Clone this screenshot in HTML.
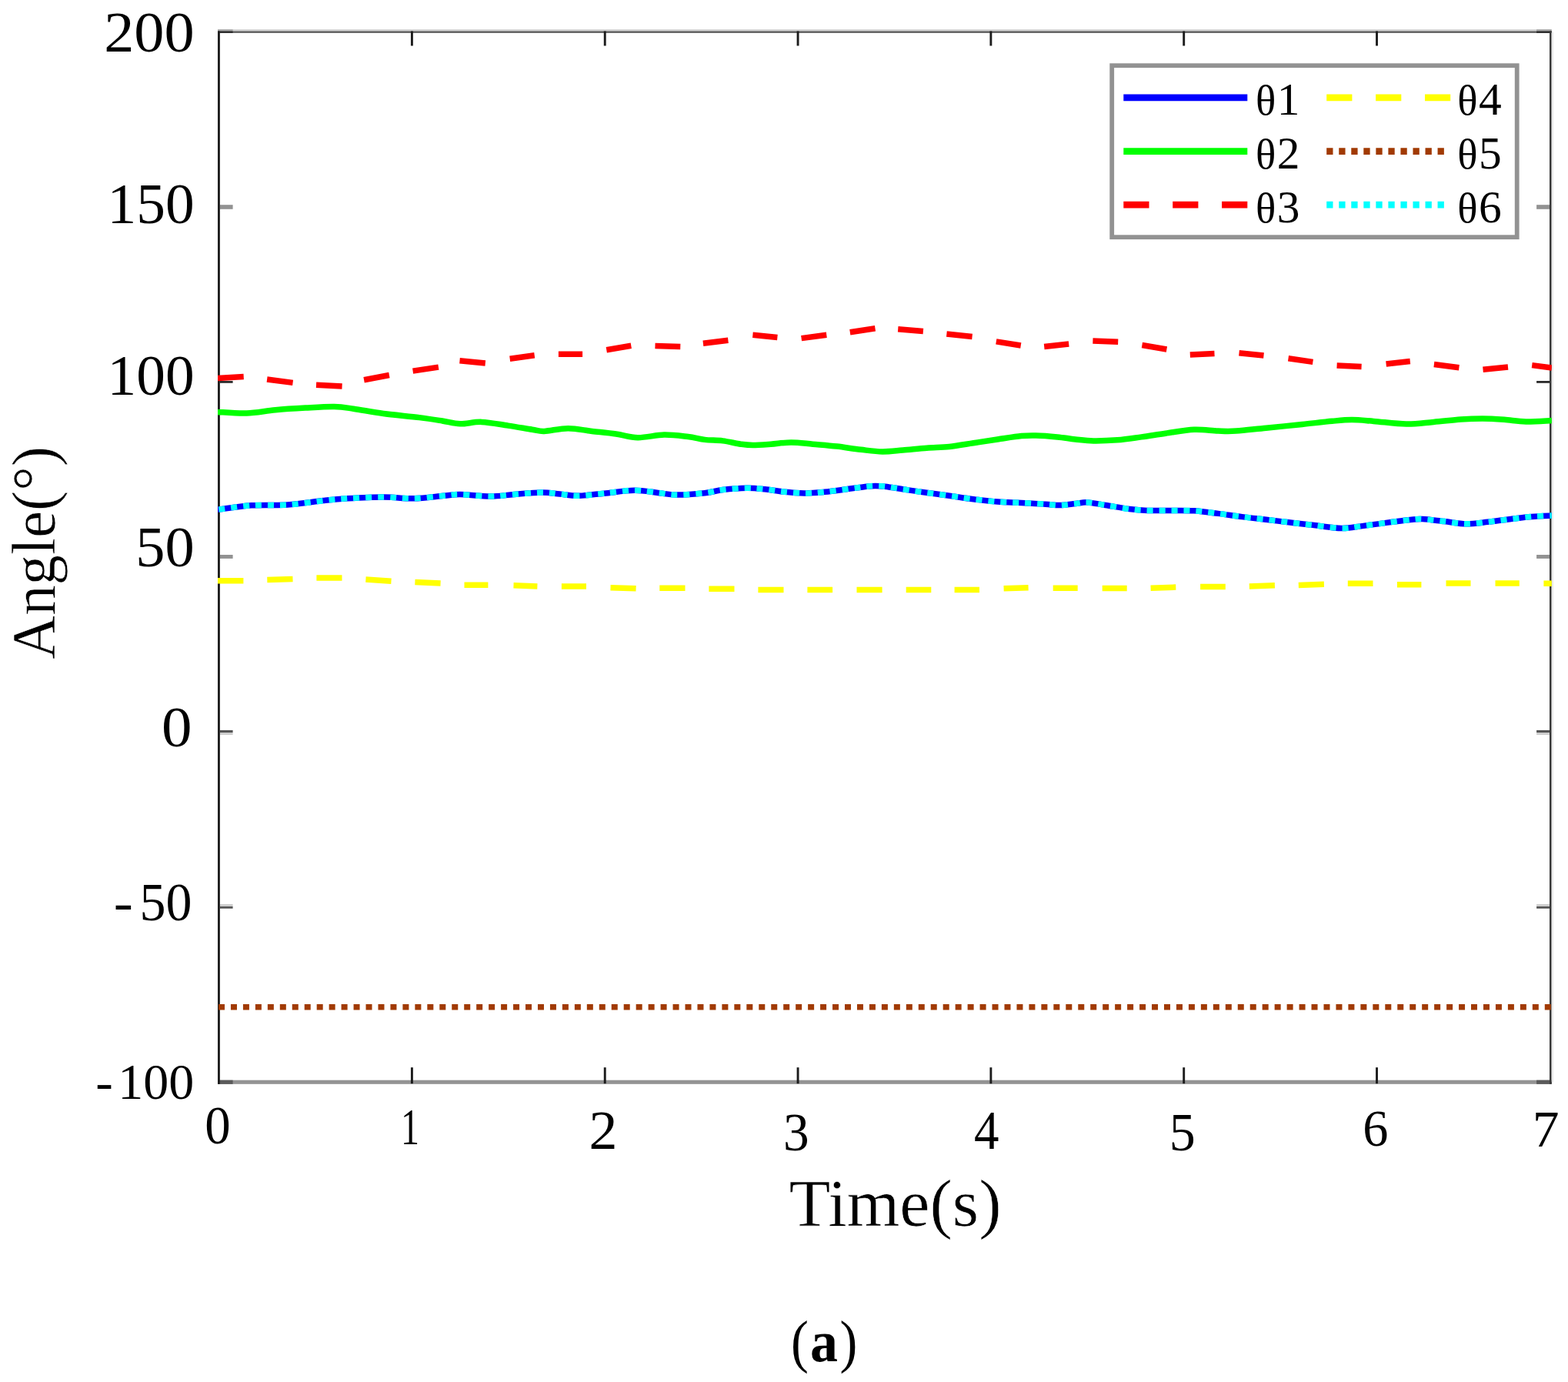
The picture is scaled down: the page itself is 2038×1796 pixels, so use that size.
<!DOCTYPE html>
<html lang="en"><head><meta charset="utf-8"><title>Joint angles (a)</title>
<style>
html,body{margin:0;padding:0;background:#fff;}
body{width:2038px;height:1796px;overflow:hidden;}
svg{display:block;}
svg text{font-family:"Liberation Serif","DejaVu Serif",serif;fill:#000;}
svg .thin text{stroke:#fff;stroke-width:0.6px;vector-effect:non-scaling-stroke;stroke-linejoin:round;}
</style></head><body>
<svg width="2038" height="1796" viewBox="0 0 2038 1796">
<rect width="2038" height="1796" fill="#fff"/>
<defs><clipPath id="plot"><rect x="283" y="38" width="1733.8" height="1371"/></clipPath></defs>
<g id="axes">
<rect x="283.0" y="38.2" width="1733.7" height="2.4" fill="#cfcfcf"/>
<rect x="283.0" y="40.5" width="1733.7" height="2.3" fill="#555"/>
<rect x="283.0" y="1403.7" width="1733.7" height="5.1" fill="#939393"/>
<rect x="283.0" y="38.2" width="19.6" height="2.4" fill="#a6a6a6"/>
<rect x="283.0" y="40.5" width="19.6" height="2.3" fill="#262626"/>
<rect x="283.0" y="1403.7" width="19.6" height="5.1" fill="#5a5a5a"/>
<rect x="1997.1000000000001" y="38.2" width="19.6" height="2.4" fill="#a6a6a6"/>
<rect x="1997.1000000000001" y="40.5" width="19.6" height="2.3" fill="#262626"/>
<rect x="1997.1000000000001" y="1403.7" width="19.6" height="5.1" fill="#5a5a5a"/>
</g>
<g id="yticks">
<rect x="285.9" y="266.2" width="16.7" height="5.6" fill="#929292"/>
<rect x="1997.1000000000001" y="266.2" width="16.9" height="5.6" fill="#929292"/>
<rect x="285.9" y="495.0" width="16.7" height="2.8" fill="#2a2a2a"/>
<rect x="1997.1000000000001" y="495.0" width="16.9" height="2.8" fill="#2a2a2a"/>
<rect x="285.9" y="721.0" width="16.7" height="4.9" fill="#929292"/>
<rect x="1997.1000000000001" y="721.0" width="16.9" height="4.9" fill="#929292"/>
<rect x="285.9" y="948.9" width="16.7" height="3.1" fill="#555"/>
<rect x="1997.1000000000001" y="948.9" width="16.9" height="3.1" fill="#555"/>
<rect x="285.9" y="952.0" width="16.7" height="3.0" fill="#cdcdcd"/>
<rect x="1997.1000000000001" y="952.0" width="16.9" height="3.0" fill="#cdcdcd"/>
<rect x="285.9" y="1175.0" width="16.7" height="3.0" fill="#cdcdcd"/>
<rect x="1997.1000000000001" y="1175.0" width="16.9" height="3.0" fill="#cdcdcd"/>
<rect x="285.9" y="1178.0" width="16.7" height="2.7" fill="#555"/>
<rect x="1997.1000000000001" y="1178.0" width="16.9" height="2.7" fill="#555"/>
</g>
<g id="xticks">
<rect x="533.97" y="1387.2" width="2.9" height="21" fill="#1c1c1c"/>
<rect x="533.97" y="40.5" width="2.9" height="19" fill="#1c1c1c"/>
<rect x="784.79" y="1387.2" width="2.9" height="21" fill="#1c1c1c"/>
<rect x="784.79" y="40.5" width="2.9" height="19" fill="#1c1c1c"/>
<rect x="1035.61" y="1387.2" width="2.9" height="21" fill="#1c1c1c"/>
<rect x="1035.61" y="40.5" width="2.9" height="19" fill="#1c1c1c"/>
<rect x="1286.43" y="1387.2" width="2.9" height="21" fill="#1c1c1c"/>
<rect x="1286.43" y="40.5" width="2.9" height="19" fill="#1c1c1c"/>
<rect x="1537.25" y="1387.2" width="2.9" height="21" fill="#1c1c1c"/>
<rect x="1537.25" y="40.5" width="2.9" height="19" fill="#1c1c1c"/>
<rect x="1788.07" y="1387.2" width="2.9" height="21" fill="#1c1c1c"/>
<rect x="1788.07" y="40.5" width="2.9" height="19" fill="#1c1c1c"/>
</g>
<rect x="283.0" y="40.5" width="2.9" height="1368.3" fill="#1e1e1e"/>
<rect x="2014" y="40.5" width="2.7" height="1368.3" fill="#383838"/>
<rect x="2016.7" y="42" width="2.4" height="1364" fill="#ebebeb"/>
<g id="curves" clip-path="url(#plot)" fill="none" stroke-linejoin="round">
<path id="theta1" d="M283.0,662.3 C290.3,661.4 311.7,657.8 326.8,656.8 C341.9,655.8 358.0,657.0 373.6,656.0 C389.2,655.0 407.4,652.0 420.4,650.6 C433.4,649.2 438.6,648.6 451.6,647.8 C464.6,647.0 484.1,645.9 498.4,645.9 C512.7,645.9 524.4,648.1 537.4,647.8 C550.4,647.5 566.3,645.2 576.4,644.3 C586.5,643.4 587.9,642.5 598.0,642.6 C608.1,642.7 625.3,645.1 637.0,645.1 C648.7,645.1 657.0,643.4 668.2,642.5 C679.4,641.6 694.2,640.1 704.1,640.0 C714.0,639.9 719.7,641.3 727.5,642.0 C735.3,642.7 741.3,644.4 750.9,644.3 C760.5,644.2 773.0,642.4 785.2,641.2 C797.4,640.0 812.5,637.4 824.2,637.3 C835.9,637.2 846.3,639.4 855.4,640.4 C864.5,641.4 868.7,643.0 878.8,643.1 C888.9,643.2 905.9,641.8 916.0,640.7 C926.1,639.6 930.3,637.6 939.4,636.5 C948.5,635.4 961.5,634.3 970.6,634.2 C979.7,634.1 986.2,634.9 994.0,635.7 C1001.8,636.5 1008.8,638.0 1017.4,638.9 C1026.0,639.8 1036.4,640.8 1045.5,640.9 C1054.6,641.0 1062.4,640.2 1072.0,639.3 C1081.6,638.4 1094.1,636.5 1103.2,635.3 C1112.3,634.1 1120.9,632.8 1126.6,632.2 C1132.3,631.6 1133.6,631.5 1137.5,631.5 C1141.4,631.5 1144.0,631.5 1150.0,632.2 C1156.0,632.9 1165.6,634.5 1173.4,635.7 C1181.2,636.9 1186.7,637.9 1196.8,639.3 C1206.9,640.7 1222.6,642.7 1234.0,644.3 C1245.4,645.9 1254.8,647.4 1265.2,648.7 C1275.6,650.0 1286.0,651.3 1296.4,652.1 C1306.8,652.9 1317.2,652.9 1327.6,653.4 C1338.0,653.9 1350.5,654.7 1358.8,655.2 C1367.1,655.7 1371.0,656.6 1377.5,656.5 C1384.0,656.4 1391.8,655.1 1397.8,654.5 C1403.8,653.9 1406.9,652.6 1413.4,652.9 C1419.9,653.2 1427.7,655.1 1436.8,656.5 C1445.9,657.9 1458.9,660.4 1468.0,661.5 C1477.1,662.6 1482.3,663.1 1491.4,663.4 C1500.5,663.7 1512.5,663.3 1522.6,663.4 C1532.7,663.5 1541.9,663.1 1552.0,663.8 C1562.1,664.5 1572.8,666.1 1583.2,667.4 C1593.6,668.7 1604.0,670.3 1614.4,671.6 C1624.8,672.9 1635.2,674.0 1645.6,675.2 C1656.0,676.4 1666.4,677.8 1676.8,679.0 C1687.2,680.2 1696.8,681.4 1708.0,682.6 C1719.2,683.9 1733.5,686.3 1743.9,686.5 C1754.3,686.7 1760.8,684.8 1770.4,683.6 C1780.0,682.4 1791.2,680.8 1801.6,679.4 C1812.0,678.0 1824.9,676.3 1832.8,675.5 C1840.7,674.7 1841.6,674.2 1849.0,674.6 C1856.4,675.0 1867.9,676.6 1877.3,677.6 C1886.7,678.6 1896.2,680.7 1905.6,680.8 C1915.0,680.9 1924.5,679.3 1933.9,678.3 C1943.3,677.3 1952.8,675.8 1962.2,674.7 C1971.6,673.6 1981.4,672.3 1990.5,671.5 C1999.6,670.7 2012.6,670.3 2017.0,670.1" stroke="#0000ff" stroke-width="7.5"/>
<path id="theta2" d="M283.0,535.4 C289.3,535.7 308.1,537.4 320.6,537.0 C333.1,536.6 345.3,533.9 358.0,532.8 C370.7,531.6 384.3,530.8 397.0,530.1 C409.7,529.4 424.0,528.4 434.4,528.6 C444.8,528.8 448.7,529.7 459.4,531.2 C470.1,532.7 484.1,535.6 498.4,537.5 C512.7,539.4 532.4,541.0 545.2,542.6 C558.0,544.2 566.2,545.6 575.0,547.0 C583.8,548.4 589.5,550.6 598.0,550.8 C606.5,551.0 615.7,548.0 626.1,548.4 C636.5,548.8 649.5,551.5 660.4,553.1 C671.3,554.7 683.8,557.0 691.6,558.2 C699.4,559.4 699.4,560.6 707.2,560.4 C715.0,560.1 728.0,556.7 738.4,556.7 C748.8,556.7 759.2,559.2 769.6,560.4 C780.0,561.6 790.9,562.6 800.8,564.0 C810.7,565.4 818.5,568.5 828.9,568.7 C839.3,568.9 852.3,565.3 863.2,565.1 C874.1,564.9 885.6,566.6 894.4,567.6 C903.2,568.6 908.5,570.5 916.0,571.4 C923.5,572.3 931.6,571.9 939.4,572.9 C947.2,573.9 956.3,576.3 962.8,577.2 C969.3,578.1 971.9,578.5 978.4,578.5 C984.9,578.5 993.5,577.8 1001.8,577.2 C1010.1,576.6 1019.2,574.9 1028.3,574.9 C1037.4,574.9 1046.5,576.3 1056.4,577.2 C1066.3,578.1 1077.2,578.9 1087.6,580.1 C1098.0,581.3 1108.9,583.2 1118.8,584.3 C1128.7,585.4 1137.8,586.8 1146.9,586.9 C1156.0,587.0 1163.8,585.8 1173.4,585.0 C1183.0,584.2 1194.5,583.0 1204.6,582.2 C1214.7,581.4 1223.9,581.5 1234.0,580.4 C1244.1,579.3 1254.8,577.3 1265.2,575.7 C1275.6,574.1 1286.0,572.5 1296.4,571.0 C1306.8,569.5 1319.3,567.4 1327.6,566.6 C1335.9,565.8 1338.5,565.8 1346.3,566.0 C1354.1,566.2 1365.8,567.1 1374.4,567.9 C1383.0,568.7 1390.0,570.2 1397.8,571.0 C1405.6,571.8 1412.1,572.8 1421.2,572.9 C1430.3,573.0 1442.0,572.6 1452.4,571.8 C1462.8,571.0 1473.2,569.3 1483.6,567.9 C1494.0,566.5 1503.4,564.8 1514.8,563.2 C1526.2,561.6 1540.6,558.7 1552.0,558.2 C1563.4,557.7 1574.1,559.8 1583.2,560.1 C1592.3,560.4 1596.2,560.8 1606.6,560.1 C1617.0,559.5 1631.3,557.6 1645.6,556.2 C1659.9,554.8 1678.1,553.0 1692.4,551.5 C1706.7,550.0 1720.6,548.3 1731.4,547.3 C1742.2,546.3 1748.0,545.6 1757.0,545.6 C1766.0,545.6 1773.6,546.5 1785.4,547.4 C1797.2,548.3 1814.8,550.9 1827.8,551.1 C1840.8,551.3 1851.4,549.4 1863.2,548.4 C1875.0,547.4 1887.9,545.8 1898.5,545.0 C1909.1,544.2 1917.4,543.9 1926.8,543.9 C1936.2,543.9 1945.7,544.6 1955.1,545.3 C1964.5,546.0 1973.1,547.7 1983.4,547.9 C1993.7,548.1 2011.4,546.7 2017.0,546.5" stroke="#00ff00" stroke-width="7.5"/>
<path id="theta3" d="M283.0,491.4L316.7,489.6 M347.1,493.0L380.6,497.4 M411.0,500.3L444.6,501.9 M473.1,493.8L505.9,487.5 M536.6,482.1L569.9,477.1 M597.5,468.8L630.8,471.9 M662.7,466.2L694.7,461.8 M725.9,460.2L757.1,460.2 M788.3,454.8L820.3,449.3 M851.5,449.6L884.3,450.6 M913.9,446.2L946.4,442.3 M978.4,435.3L1010.4,438.4 M1041.6,439.6L1074.3,435.3 M1104.8,431.8L1137.5,426.7 M1167.2,427.8L1199.9,430.6 M1230.4,434.0L1263.6,437.6 M1294.8,443.9L1326.8,449.0 M1357.2,450.6L1389.2,447.0 M1420.4,443.1L1453.2,444.3 M1484.4,448.5L1516.4,454.0 M1546.8,461.0L1578.5,459.5 M1610.5,458.7L1642.5,462.1 M1674.5,465.7L1706.4,470.4 M1737.6,475.1L1769.6,476.6 M1801.6,472.9L1832.8,469.4 M1863.9,473.5L1896.4,477.7 M1927.5,480.3L1960.0,477.1 M1991.2,474.6L2017.0,478.1" stroke="#ff0000" stroke-width="7.5"/>
<path id="theta4" d="M283.0,754.8L316.4,754.8 M347.3,753.6L380.5,752.5 M411.4,750.9L444.5,750.9 M475.4,753.1L508.5,755.3 M539.4,756.4L572.6,758.0 M603.5,760.2L634.4,760.2 M667.5,760.8L698.4,762.0 M729.9,762.1L762.0,762.1 M793.5,763.7L826.6,764.8 M857.3,764.2L890.5,764.2 M921.4,765.3L954.5,765.3 M985.4,766.4L1018.5,766.4 M1049.4,766.4L1082.1,766.4 M1113.5,766.6L1146.6,766.6 M1177.7,766.6L1210.3,766.6 M1240.6,766.4L1273.0,766.4 M1304.6,764.8L1336.6,763.7 M1368.7,764.2L1400.7,764.2 M1432.7,764.6L1464.7,764.6 M1495.6,764.2L1528.3,763.1 M1560.1,762.4L1592.8,762.4 M1623.8,762.0L1656.9,760.8 M1687.8,760.4L1720.9,759.3 M1751.8,758.2L1784.5,758.2 M1815.9,759.7L1847.4,759.7 M1879.5,758.0L1911.5,758.0 M1943.5,758.0L1974.8,758.0 M2006.4,758.2L2017.0,758.2" stroke="#ffff00" stroke-width="7.5"/>
<path id="theta5" d="M283,1308.7H2017" stroke="#a13a03" stroke-width="7.5" stroke-dasharray="8 7.961" stroke-dashoffset="-1"/>
<path id="theta6" d="M283.0,662.3 C290.3,661.4 311.7,657.8 326.8,656.8 C341.9,655.8 358.0,657.0 373.6,656.0 C389.2,655.0 407.4,652.0 420.4,650.6 C433.4,649.2 438.6,648.6 451.6,647.8 C464.6,647.0 484.1,645.9 498.4,645.9 C512.7,645.9 524.4,648.1 537.4,647.8 C550.4,647.5 566.3,645.2 576.4,644.3 C586.5,643.4 587.9,642.5 598.0,642.6 C608.1,642.7 625.3,645.1 637.0,645.1 C648.7,645.1 657.0,643.4 668.2,642.5 C679.4,641.6 694.2,640.1 704.1,640.0 C714.0,639.9 719.7,641.3 727.5,642.0 C735.3,642.7 741.3,644.4 750.9,644.3 C760.5,644.2 773.0,642.4 785.2,641.2 C797.4,640.0 812.5,637.4 824.2,637.3 C835.9,637.2 846.3,639.4 855.4,640.4 C864.5,641.4 868.7,643.0 878.8,643.1 C888.9,643.2 905.9,641.8 916.0,640.7 C926.1,639.6 930.3,637.6 939.4,636.5 C948.5,635.4 961.5,634.3 970.6,634.2 C979.7,634.1 986.2,634.9 994.0,635.7 C1001.8,636.5 1008.8,638.0 1017.4,638.9 C1026.0,639.8 1036.4,640.8 1045.5,640.9 C1054.6,641.0 1062.4,640.2 1072.0,639.3 C1081.6,638.4 1094.1,636.5 1103.2,635.3 C1112.3,634.1 1120.9,632.8 1126.6,632.2 C1132.3,631.6 1133.6,631.5 1137.5,631.5 C1141.4,631.5 1144.0,631.5 1150.0,632.2 C1156.0,632.9 1165.6,634.5 1173.4,635.7 C1181.2,636.9 1186.7,637.9 1196.8,639.3 C1206.9,640.7 1222.6,642.7 1234.0,644.3 C1245.4,645.9 1254.8,647.4 1265.2,648.7 C1275.6,650.0 1286.0,651.3 1296.4,652.1 C1306.8,652.9 1317.2,652.9 1327.6,653.4 C1338.0,653.9 1350.5,654.7 1358.8,655.2 C1367.1,655.7 1371.0,656.6 1377.5,656.5 C1384.0,656.4 1391.8,655.1 1397.8,654.5 C1403.8,653.9 1406.9,652.6 1413.4,652.9 C1419.9,653.2 1427.7,655.1 1436.8,656.5 C1445.9,657.9 1458.9,660.4 1468.0,661.5 C1477.1,662.6 1482.3,663.1 1491.4,663.4 C1500.5,663.7 1512.5,663.3 1522.6,663.4 C1532.7,663.5 1541.9,663.1 1552.0,663.8 C1562.1,664.5 1572.8,666.1 1583.2,667.4 C1593.6,668.7 1604.0,670.3 1614.4,671.6 C1624.8,672.9 1635.2,674.0 1645.6,675.2 C1656.0,676.4 1666.4,677.8 1676.8,679.0 C1687.2,680.2 1696.8,681.4 1708.0,682.6 C1719.2,683.9 1733.5,686.3 1743.9,686.5 C1754.3,686.7 1760.8,684.8 1770.4,683.6 C1780.0,682.4 1791.2,680.8 1801.6,679.4 C1812.0,678.0 1824.9,676.3 1832.8,675.5 C1840.7,674.7 1841.6,674.2 1849.0,674.6 C1856.4,675.0 1867.9,676.6 1877.3,677.6 C1886.7,678.6 1896.2,680.7 1905.6,680.8 C1915.0,680.9 1924.5,679.3 1933.9,678.3 C1943.3,677.3 1952.8,675.8 1962.2,674.7 C1971.6,673.6 1981.4,672.3 1990.5,671.5 C1999.6,670.7 2012.6,670.3 2017.0,670.1" stroke="#00ffff" stroke-width="7.5" stroke-dasharray="8 7.954" stroke-dashoffset="-1.5"/>
</g>
<g id="legend">
<rect x="1445.20" y="85.20" width="526.50" height="223.00" fill="#fff" stroke="#929292" stroke-width="5.8"/>
<path d="M1460.3,126.9 H1621.3" stroke="#0000ff" stroke-width="8.8"/>
<path d="M1460.3,196.7 H1621.3" stroke="#00ff00" stroke-width="8.8"/>
<path d="M1460.3,266.2 H1621.3" stroke="#ff0000" stroke-width="8.8" stroke-dasharray="33.2 30.7"/>
<path d="M1724.2,126.9 H1886.0" stroke="#ffff00" stroke-width="8.8" stroke-dasharray="33.2 30.7"/>
<path d="M1724.2,196.7 H1877.3" stroke="#a13a03" stroke-width="8.8" stroke-dasharray="8.3 7.74"/>
<path d="M1724.2,266.2 H1877.3" stroke="#00ffff" stroke-width="8.8" stroke-dasharray="8.3 7.74"/>
<text x="1632.1" y="149.0" font-size="59.4"><tspan font-size="54.8">θ</tspan><tspan dx="1.4">1</tspan></text>
<text x="1632.1" y="219.0" font-size="59.4"><tspan font-size="54.8">θ</tspan><tspan dx="1.4">2</tspan></text>
<text x="1632.1" y="288.8" font-size="59.4"><tspan font-size="54.8">θ</tspan><tspan dx="1.4">3</tspan></text>
<text x="1894.3" y="149.0" font-size="59.4"><tspan font-size="54.8">θ</tspan><tspan dx="1.4">4</tspan></text>
<text x="1894.3" y="219.0" font-size="59.4"><tspan font-size="54.8">θ</tspan><tspan dx="1.4">5</tspan></text>
<text x="1894.3" y="288.8" font-size="59.4"><tspan font-size="54.8">θ</tspan><tspan dx="1.4">6</tspan></text>
</g>
<g id="ylabels">
<text transform="matrix(0.7837 0 0 0.7393 135.17 67.36)" font-size="100">200</text>
<text transform="matrix(0.7540 0 0 0.7319 139.51 290.37)" font-size="100">150</text>
<text transform="matrix(0.7540 0 0 0.7319 139.51 513.37)" font-size="100">100</text>
<text transform="matrix(0.7644 0 0 0.7363 176.21 736.36)" font-size="100">50</text>
<text transform="matrix(0.7905 0 0 0.7319 210.04 970.37)" font-size="100">0</text>
<text transform="matrix(0.6800 0 0 0.6874 181.62 1196.11)" font-size="100"><tspan x="-49.9" textLength="36.9" lengthAdjust="spacingAndGlyphs">-</tspan><tspan x="0">50</tspan></text>
<text transform="matrix(0.6599 0 0 0.6593 153.26 1427.94)" font-size="100"><tspan x="-44.1" textLength="34.2" lengthAdjust="spacingAndGlyphs">-</tspan><tspan x="0">100</tspan></text>
</g>
<g id="xlabels">
<text transform="matrix(0.6690 0 0 0.6933 266.22 1486.11)" font-size="100">0</text>
<text transform="matrix(0.4800 0 0 0.6687 520.98 1486.80)" font-size="100">1</text>
<text transform="matrix(0.7400 0 0 0.7167 765.57 1492.70)" font-size="100">2</text>
<text transform="matrix(0.6732 0 0 0.6985 1018.03 1494.50)" font-size="100">3</text>
<text transform="matrix(0.6495 0 0 0.7231 1266.10 1492.76)" font-size="100">4</text>
<text transform="matrix(0.6800 0 0 0.7038 1519.72 1494.50)" font-size="100">5</text>
<text transform="matrix(0.6635 0 0 0.6687 1771.21 1489.23)" font-size="100">6</text>
<text transform="matrix(0.6963 0 0 0.6800 1991.87 1489.94)" font-size="100">7</text>
</g>
<g id="titles" class="thin">
<text transform="matrix(0.8822 0 0 0.8600 1025.44 1592.60)" font-size="100">Time(s)</text>
<text transform="translate(70.85 856.79) rotate(-90) scale(0.7887 0.8022)" font-size="100">Angle(°)</text>
</g>
<text transform="matrix(0.6863 0 0 0.7600 0 1768.74)" font-size="100"><tspan x="1498.0">(</tspan><tspan x="1534.3" font-weight="bold" font-size="101.1" textLength="52.4" lengthAdjust="spacingAndGlyphs">a</tspan><tspan x="1590.3">)</tspan></text>
</svg></body></html>
